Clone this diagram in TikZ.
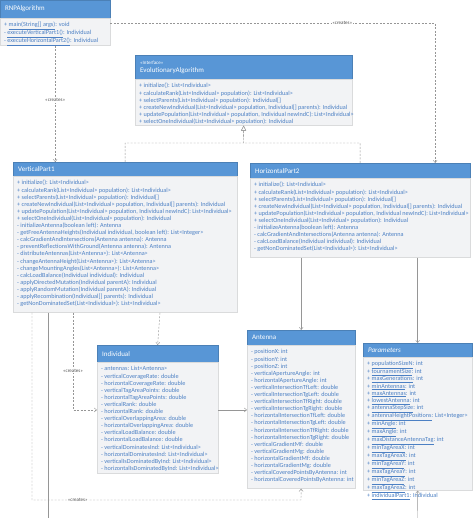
\documentclass[tikz,border=0pt]{standalone}
\usepackage{fontspec}
\setmainfont{Carlito}
\usetikzlibrary{arrows.meta}
\definecolor{hdrblue}{RGB}{88,150,214}
\definecolor{bodygray}{RGB}{242,243,245}
\definecolor{txtblue}{RGB}{76,128,196}
\definecolor{lgray}{RGB}{150,150,150}
\tikzset{
  hdr/.style={fill=hdrblue, draw=hdrblue!85!black, line width=0.3pt, anchor=north west, inner xsep=5pt, inner ysep=0pt,
    align=left, text=white, font=\fontsize{7}{7.4}\selectfont},
  bdy/.style={fill=bodygray, draw=bodygray!90!black, line width=0.3pt, anchor=north west, inner xsep=4pt, inner ysep=3.5pt,
    text=txtblue, font=\fontsize{6.2}{7.1}\selectfont},
  depline/.style={draw=lgray, line width=0.4pt, dash pattern=on 2pt off 1.5pt, -{Straight Barb[length=2.5pt,width=4pt]}},
  realline/.style={draw=lgray, line width=0.4pt, dash pattern=on 2pt off 1.5pt, -{Triangle[open,length=5pt,width=5pt]}},
  assocline/.style={draw=lgray, line width=0.4pt, -{Straight Barb[length=2.5pt,width=4pt]}},
  plainline/.style={draw=lgray, line width=0.4pt},
  lbl/.style={font=\fontsize{5}{5.5}\selectfont, text=black!70, fill=white, inner sep=0.6pt}
}
\newcommand\umlbox[8]{%
  \pgfmathsetmacro\umlW{#4-8}%
  \pgfmathsetmacro\umlH{#6-7}%
  \node[hdr, minimum width=#4pt, minimum height=#5pt, text width=#4pt-10pt] (#1h) at (#2,#3) {#7};
  \node[bdy, minimum width=#4pt] (#1) at (#1h.south west)
    {\parbox[t][\umlH pt][t]{\umlW pt}{\makebox[\umlW pt][l]{\begin{tabular}[t]{@{}l@{}}#8\end{tabular}}}};
}
\begin{document}
\begin{tikzpicture}[x=1pt,y=-1pt]
\useasboundingbox[fill=white] (0,0) rectangle (474,518);

\umlbox{rnp}{0}{0}{110}{18}{27}{RNPAlgorithm}{%
+ \underline{main(String[] args)}: void\\
- \underline{executeVerticalPart1()}: Individual\\
- \underline{executeHorizontalPart2()}: Individual}

\umlbox{ea}{135}{55}{217}{24}{46}{{\fontsize{5}{5.5}\selectfont «Interface»}\\[1pt]EvolutionaryAlgorithm}{%
+ initialize(): List<Individual>\\
+ calculateRank(List<Individual> population): List<Individual>\\
+ selectParents(List<Individual> population): Individual[]\\
+ createNewIndividual(List<Individual> population, Individual[] parents): Individual\\
+ updatePopulation(List<Individual> population, Individual newIndC): List<Individual>\\
+ selectOneIndividual(List<Individual> population): Individual}

\umlbox{vp}{13}{162}{224}{14}{136}{VerticalPart1}{%
+ initialize(): List<Individual>\\
+ calculateRank(List<Individual> population): List<Individual>\\
+ selectParents(List<Individual> population): Individual[]\\
+ createNewIndividual(List<Individual> population, Individual[] parents): Individual\\
+ updatePopulation(List<Individual> population, Individual newIndC): List<Individual>\\
+ selectOneIndividual(List<Individual> population): Individual\\
- initializeAntenna(boolean left): Antenna\\
- getFreeAntennaHeights(Individual individual, boolean left): List<Integer>\\
- calcGradientAndIntersections(Antenna antenna): Antenna\\
- preventReflectionsWithGround(Antenna antenna): Antenna\\
- distributeAntennas(List<Antenna>): List<Antenna>\\
- changeAntennaHeight(List<Antenna>): List<Antenna>\\
- changeMountingAngles(List<Antenna>): List<Antenna>\\
- calcLoadBalance(Individual individual): Individual\\
- applyDirectedMutation(Individual parentA): Individual\\
- applyRandomMutation(Individual parentA): Individual\\
- applyRecombination(Individual[] parents): Individual\\
- getNonDominatedSet(List<Individual>): List<Individual>}

\umlbox{hp}{250}{163}{220}{15}{79}{HorizontalPart2}{%
+ initialize(): List<Individual>\\
+ calculateRank(List<Individual> population): List<Individual>\\
+ selectParents(List<Individual> population): Individual[]\\
+ createNewIndividual(List<Individual> population, Individual[] parents): Individual\\
+ updatePopulation(List<Individual> population, Individual newIndC): List<Individual>\\
+ selectOneIndividual(List<Individual> population): Individual\\
- initializeAntenna(boolean left): Antenna\\
- calcGradientAndIntersections(Antenna antenna): Antenna\\
- calcLoadBalance(Individual individual): Individual\\
- getNonDominatedSet(List<Individual>): List<Individual>}

\umlbox{ind}{97}{345}{121}{17}{111}{Individual}{%
- antennas: List<Antenna>\\
- verticalCoverageRate: double\\
- horizontalCoverageRate: double\\
- verticalTagAreaPoints: double\\
- horizontalTagAreaPoints: double\\
- verticalRank: double\\
- horizontalRank: double\\
- verticalOverlappingArea: double\\
- horizontalOverlappingArea: double\\
- verticalLoadBalance: double\\
- horizontalLoadBalance: double\\
- verticalDominatesInd: List<Individual>\\
- horizontalDominatesInd: List<Individual>\\
- verticalIsDominatedByInd: List<Individual>\\
- horizontalIsDominatedByInd: List<Individual>}

\umlbox{ant}{247}{330}{108}{15}{143}{Antenna}{%
- positionX: int\\
- positionY: int\\
- positionZ: int\\
- verticalApertureAngle: int\\
- horizontalApertureAngle: int\\
- verticalIntersectionTfLeft: double\\
- verticalIntersectionTgLeft: double\\
- verticalIntersectionTfRight: double\\
- verticalIntersectionTgRight: double\\
- horizontalIntersectionTfLeft: double\\
- horizontalIntersectionTgLeft: double\\
- horizontalIntersectionTfRight: double\\
- horizontalIntersectionTgRight: double\\
- verticalGradientMf: double\\
- verticalGradientMg: double\\
- horizontalGradientMf: double\\
- horizontalGradientMg: double\\
- verticalCoveredPointsByAntenna: int\\
- horizontalCoveredPointsByAntenna: int}

\umlbox{par}{363}{343}{109}{14}{133}{\itshape Parameters}{%
+ \underline{populationSizeN}: int\\
+ \underline{tournamentSize}: int\\
+ \underline{maxGenerations}: int\\
+ \underline{minAntennas}: int\\
+ \underline{maxAntennas}: int\\
+ \underline{lowestAntenna}: int\\
+ \underline{antennaStepSize}: int\\
+ \underline{antennaHeightPositions}: List<Integer>\\
+ \underline{minAngle}: int\\
+ \underline{maxAngle}: int\\
+ \underline{maxDistanceAntennaTag}: int\\
+ \underline{minTagAreaX}: int\\
+ \underline{maxTagAreaX}: int\\
+ \underline{minTagAreaY}: int\\
+ \underline{maxTagAreaY}: int\\
+ \underline{minTagAreaZ}: int\\
+ \underline{maxTagAreaZ}: int\\
+ \underline{individualPart1}: Individual}

% connectors
\draw[depline] ([yshift=-5pt]rnp.north east) -| node[lbl, pos=0.357] {«creates»} ([xshift=75pt]hph.north);
\draw[depline] (rnp.south) -- node[lbl, pos=0.47] {«creates»} (rnp.south |- vph.north);
\coordinate (rj) at (243.5,143);
\draw[realline] (vph.north) |- (rj) -- (ea.south);
\draw[realline] (hph.north) |- (rj) -- (ea.south);
\draw[assocline] (hp.south -| parh.north) -- (parh.north);
\draw[assocline] (hp.south -| anth.north) -- (anth.north);
\draw[assocline] ([yshift=8pt]ind.east) -- ([yshift=8pt]ind.east -| ant.west);
\draw[depline] (vp.south -| 160,0) -- (indh.north);
\draw[depline] (vp.south -| 73,0) |- node[lbl, pos=0.3] {«creates»} ([yshift=8pt]ind.west);
\coordinate (ab) at (301,500);
\draw[depline] (vp.south -| 32,0) |- node[lbl, pos=0.585] {«creates»} (ab) -- (ant.south);
\coordinate (pb) at (417.5,518);
\draw[plainline] (vp.south -| 48,0) -- (48,518);
\draw[assocline] (pb) -- (par.south);
\end{tikzpicture}
\end{document}
